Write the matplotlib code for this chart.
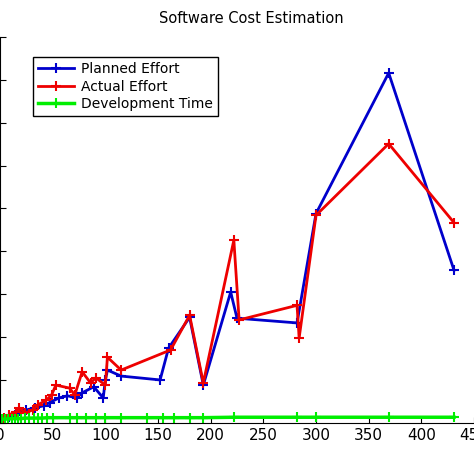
import matplotlib
matplotlib.use("Agg")
import matplotlib.pyplot as plt

# values (y in tick units, labels are cropped away)
planned_x = [4, 9, 14, 20, 25, 33, 42, 47, 56, 64, 73, 78, 89, 98, 100, 102, 115, 152, 160, 180, 193, 219, 225, 282, 300, 369, 431]
planned_y = [0.09, 0.14, 0.19, 0.26, 0.30, 0.35, 0.40, 0.47, 0.58, 0.63, 0.58, 0.70, 0.84, 0.58, 1.00, 1.23, 1.09, 1.00, 1.74, 2.46, 0.88, 3.05, 2.44, 2.33, 4.88, 8.16, 3.56]
actual_x = [4, 9, 15, 18, 24, 31, 36, 44, 49, 53, 66, 71, 78, 86, 91, 100, 102, 115, 162, 180, 193, 222, 227, 282, 284, 300, 369, 431]
actual_y = [0.12, 0.19, 0.26, 0.35, 0.23, 0.30, 0.42, 0.53, 0.65, 0.88, 0.81, 0.65, 1.19, 0.93, 1.05, 0.88, 1.53, 1.23, 1.70, 2.51, 0.93, 4.26, 2.40, 2.74, 1.98, 4.84, 6.51, 4.67]
devtime_x = [2, 5, 8, 11, 14, 17, 20, 24, 28, 32, 36, 40, 45, 50, 66, 73, 82, 91, 100, 115, 140, 155, 165, 180, 193, 222, 282, 300, 369, 431]
devtime_y = [0.08, 0.09, 0.09, 0.1, 0.1, 0.1, 0.1, 0.11, 0.11, 0.11, 0.11, 0.11, 0.12, 0.12, 0.12, 0.12, 0.12, 0.12, 0.12, 0.12, 0.12, 0.12, 0.12, 0.12, 0.12, 0.13, 0.13, 0.13, 0.13, 0.13]

fig = plt.figure(figsize=(4.74, 4.74), dpi=100)
ax = fig.add_axes([0.0, 0.108, 1.0, 0.814])

ax.plot(planned_x, planned_y, color="#0000cc", lw=2, marker="+", ms=7, mew=1.5, label="Planned Effort")
ax.plot(actual_x, actual_y, color="#ee0000", lw=2, marker="+", ms=7, mew=1.5, label="Actual Effort")
ax.plot(devtime_x, devtime_y, color="#00ee00", lw=2.5, marker="+", ms=7, mew=1.5, label="Development Time")

ax.set_xlim(0, 431)
ax.set_ylim(0, 9)
ax.set_xticks(range(0, 451, 50))
ax.set_yticks(range(0, 10))
ax.set_yticklabels([])
ax.tick_params(direction="in", labelsize=11, length=4)
for s in ["top", "right"]:
    ax.spines[s].set_visible(False)

fig.text(0.53, 0.962, "Software Cost Estimation", ha="center", va="center", fontsize=10.5)

leg = ax.legend(loc="upper left", bbox_to_anchor=(0.055, 0.965), fontsize=10,
                fancybox=False, framealpha=1, borderpad=0.35, handlelength=2.6,
                labelspacing=0.25, handletextpad=0.5)
leg.get_frame().set_edgecolor("black")

fig.savefig("out.png", dpi=100)
